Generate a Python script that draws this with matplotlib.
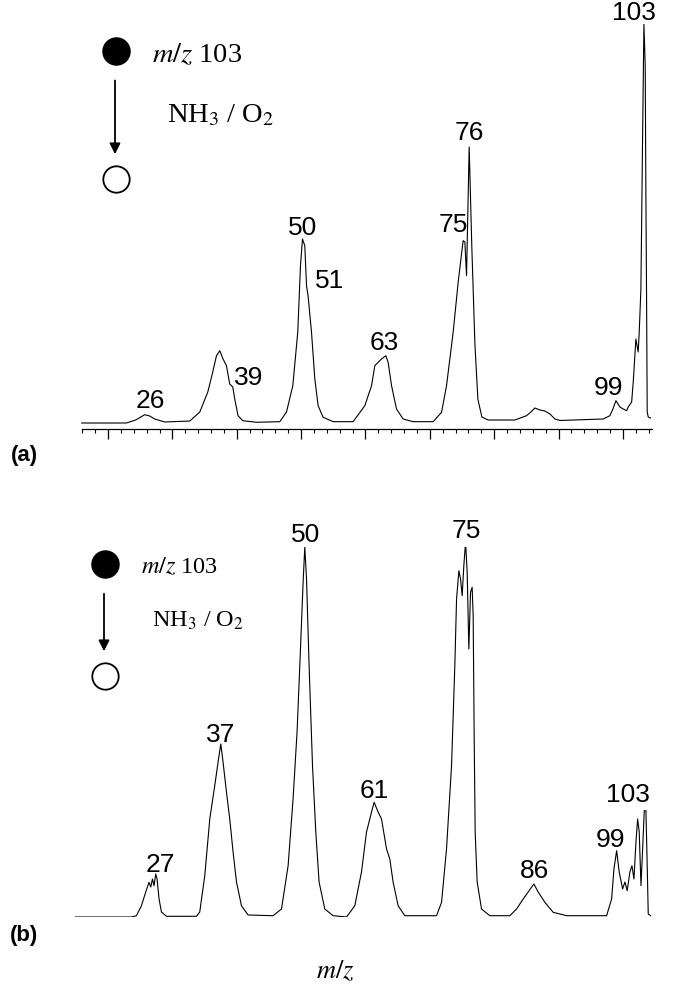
import numpy as np
import matplotlib
matplotlib.use("Agg")
import matplotlib.pyplot as plt

plt.rcParams['mathtext.fontset'] = 'stix'

# panel (a): product ion spectrum (m/z, relative intensity)
mz_a = [15.91, 22.86, 24.30, 25.70, 26.48, 27.26, 28.81, 32.71, 34.26, 35.50,
        36.27, 36.85, 37.36, 37.87, 38.40, 38.91, 39.38, 39.69, 40.20, 40.93,
        43.06, 46.69, 47.73, 48.71, 49.48, 49.90, 50.21, 50.57, 50.84, 51.08,
        51.61, 52.13, 52.64, 53.42, 54.97, 58.08, 59.90, 60.94, 61.45, 61.96,
        62.49, 63.16, 63.52, 64.05, 64.82, 65.85, 67.40, 70.51, 71.82, 72.59,
        73.62, 74.40, 75.17, 75.44, 75.70, 76.11, 76.53, 77.00, 77.46, 78.08,
        79.06, 83.21, 85.03, 85.70, 86.32, 87.10, 87.88, 88.66, 89.43, 90.21,
        96.93, 97.97, 98.44, 98.91, 99.53, 100.04, 100.57, 100.82, 101.35, 101.60,
        102.01, 102.37, 102.53, 102.79, 103.06, 103.26, 103.46, 103.57, 103.68, 103.77,
        103.93, 104.30]
int_a = [0.0, 0.0, 0.75, 2.08, 1.75, 1.0, 0.25, 0.5, 2.76, 7.77,
         12.78, 16.87, 18.12, 16.04, 14.36, 9.77, 9.02, 6.02, 1.83, 0.58,
         0.18, 0.33, 2.76, 9.35, 22.81, 39.42, 46.12, 44.44, 34.41, 31.90,
         22.81, 11.03, 4.34, 1.43, 0.33, 0.33, 4.34, 9.35, 14.36, 15.21,
         16.04, 16.87, 15.21, 9.35, 3.51, 1.0, 0.33, 0.33, 2.68, 9.35,
         22.73, 35.26, 45.69, 45.36, 36.92, 69.17, 43.6, 19.8, 6.0, 1.5,
         0.75, 0.75, 1.83, 2.76, 3.76, 3.26, 3.0, 2.26, 1.0, 0.63,
         1.0, 1.83, 3.5, 5.59, 4.01, 3.51, 3.08, 4.01, 5.26, 10.28,
         21.05, 17.79, 22.81, 33.58, 72.93, 100.0, 89.47, 56.14, 28.57, 2.76,
         1.5, 1.25]

# panel (b)
mz_b = [14.82, 23.64, 24.41, 25.19, 25.86, 26.37, 26.64, 26.90, 27.15, 27.41,
        27.62, 27.93, 28.30, 29.08, 33.74, 34.25, 35.03, 35.81, 36.58, 37.10,
        37.52, 37.87, 38.40, 38.91, 39.43, 39.96, 40.73, 41.76, 45.64, 46.95,
        47.98, 48.75, 49.37, 49.90, 50.31, 50.57, 50.84, 51.24, 51.77, 52.28,
        52.79, 53.68, 54.97, 57.05, 58.34, 59.38, 60.16, 60.94, 61.34, 61.96,
        62.49, 63.27, 63.78, 64.29, 65.07, 66.11, 71.04, 71.82, 72.59, 73.37,
        73.88, 74.15, 74.51, 74.77, 75.02, 75.28, 75.55, 75.80, 76.06, 76.32,
        76.57, 76.73, 76.88, 77.04, 77.35, 78.03, 79.32, 82.43, 83.47, 84.50,
        85.28, 86.16, 86.83, 87.87, 89.16, 91.25, 97.46, 98.24, 98.60, 99.02,
        99.42, 99.95, 100.31, 100.66, 101.08, 101.40, 101.71, 102.02, 102.28, 102.53,
        102.80, 103.06, 103.31, 103.57, 103.77, 103.93, 104.30]
int_b = [0.0, 0.0, 0.35, 3.05, 6.76, 9.38, 8.11, 10.27, 8.46, 11.62,
         10.27, 4.86, 1.35, 0.19, 0.19, 1.35, 11.16, 26.49, 35.49, 41.89,
         46.76, 41.89, 33.78, 26.49, 17.57, 9.46, 3.05, 0.54, 0.35, 2.16,
         13.86, 31.89, 50.0, 72.43, 90.54, 100.0, 91.35, 67.92, 40.89, 22.97,
         9.46, 2.16, 0.35, 0.0, 3.05, 12.16, 22.97, 28.38, 31.0, 28.38,
         26.49, 18.38, 15.68, 9.46, 3.05, 0.35, 0.35, 3.97, 18.38, 40.89,
         67.92, 85.95, 93.59, 91.35, 86.84, 94.95, 101.27, 93.16, 72.43, 87.76,
         89.11, 81.43, 50.0, 22.97, 9.46, 2.16, 0.35, 0.35, 2.16, 4.86,
         6.76, 8.92, 6.76, 3.97, 1.27, 0.35, 0.35, 4.86, 12.97, 17.92,
         12.16, 7.57, 9.46, 7.11, 12.16, 13.86, 10.27, 20.27, 26.49, 22.97,
         8.46, 18.38, 28.73, 28.73, 13.86, 0.81, 0.35]

# peak labels (text, m/z position, label baseline intensity)
lab_a = ['26', '39', '50', '51', '63', '75', '76', '99', '103']
lab_a_mz = [26.6, 41.9, 50.3, 54.4, 62.9, 73.7, 76.1, 97.7, 101.7]
lab_a_y = [4.0, 9.8, 47.4, 34.1, 18.5, 48.1, 71.2, 7.3, 101.2]

lab_b = ['27', '37', '50', '61', '75', '86', '99', '103']
lab_b_mz = [28.2, 37.5, 50.7, 61.4, 75.6, 86.2, 98.1, 100.7]
lab_b_y = [12.4, 47.6, 101.6, 32.4, 102.7, 10.8, 19.2, 31.4]

fig = plt.figure(figsize=(6.89, 9.87), dpi=100)
W, H = 689., 987.

xlim = (14.87, 104.98)

ax1 = fig.add_axes([75/W, 1-429.5/H, 580/W, 404.5/H])
ax1.plot(mz_a, int_a, color='k', lw=0.8)
ax1.set_xlim(xlim)
ax1.set_ylim(-1.38, 100)
for s in ['top', 'right', 'left']:
    ax1.spines[s].set_visible(False)
ax1.spines['bottom'].set_bounds(15.9, 104.5)
ax1.spines['bottom'].set_linewidth(0.9)
ax1.set_xticks(np.arange(20, 101, 10))
ax1.set_xticks(np.arange(16, 105, 2), minor=True)
ax1.tick_params(axis='x', which='major', length=7.5, width=0.9, direction='out', labelbottom=False)
ax1.tick_params(axis='x', which='minor', length=3, width=0.8, direction='out')
ax1.set_yticks([])
for t, m, y in zip(lab_a, lab_a_mz, lab_a_y):
    ax1.text(m, y, t, ha='center', va='baseline', fontsize=19,
             family='Liberation Sans', clip_on=False)

ax2 = fig.add_axes([75/W, 1-918/H, 580/W, 370/H])
ax2.plot(mz_b, int_b, color='k', lw=0.8)
ax2.set_xlim(xlim)
ax2.set_ylim(0, 100)
ax2.axis('off')
for t, m, y in zip(lab_b, lab_b_mz, lab_b_y):
    ax2.text(m, y, t, ha='center', va='baseline', fontsize=19,
             family='Liberation Sans', clip_on=False)

# overlay in pixel units for the scheme and panel letters
ov = fig.add_axes([0, 0, 1, 1])
ov.set_xlim(0, W)
ov.set_ylim(H, 0)
ov.axis('off')

for cx, top, bot, mid, fs in [(116, 51.7, 180, 62, 20.5), (105, 565, 677, 573, 17.5)]:
    ov.plot(cx, top, 'o', ms=19.5, mfc='k', mec='k')
    ov.plot(cx, bot, 'o', ms=19, mfc='white', mec='k', mew=1.3)
    ov.annotate('', xy=(cx - 1, bot - 22), xytext=(cx - 1, top + 27),
                arrowprops=dict(arrowstyle='-|>', lw=1.3, color='k', mutation_scale=16))
    ov.text(cx + 36, mid, r'$\mathit{m/z}$ 103', fontsize=fs, family='Liberation Serif',
            va='baseline', ha='left')
    ov.text(cx + 51 if fs > 18 else cx + 47, mid + 60 if fs > 18 else mid + 54,
            r'NH$_3$ / O$_2$', fontsize=fs, family='Liberation Serif', va='baseline', ha='left')

ov.text(24, 456, '(a)', fontsize=16, fontweight='bold', family='Liberation Sans',
        ha='center', va='center')
ov.text(24, 935, '(b)', fontsize=16, fontweight='bold', family='Liberation Sans',
        ha='center', va='center')
ov.text(335, 978, r'$\mathit{m/z}$', fontsize=19, ha='center', va='baseline')

fig.savefig('out.png', dpi=100)
